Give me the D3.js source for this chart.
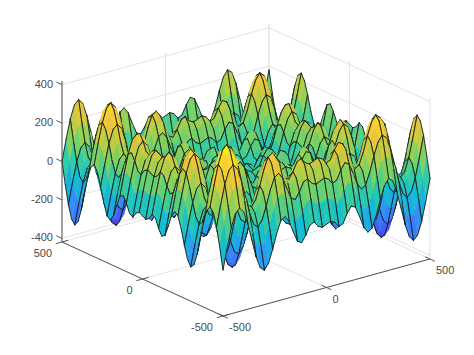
<!DOCTYPE html>
<html>
<head>
<meta charset="utf-8">
<script src="https://cdn.jsdelivr.net/npm/d3@7"></script>
<style>
html, body { margin: 0; padding: 0; background: #fff; }
svg { display: block; }
text { font-family: "Liberation Sans", Arial, sans-serif; font-size: 11px; fill: #4a4a4a; }
</style>
</head>
<body>
<script>
var xTicks = [-500, 0, 500];
var yTicks = [-500, 0, 500];
var zTicks = [-400, -200, 0, 200, 400];

// surface heights, one row per y (-500 to 500 in steps of 20), one column per x
var zGrid = [
[-180,-70,29,97,119,93,24,-68,-158,-221,-240,-209,-143,-64,-5,10,-22,-83,-137,-150,-117,-71,-60,-89,-100,-90,-80,-91,-120,-109,-63,-30,-43,-97,-158,-190,-175,-116,-37,29,60,41,-22,-112,-204,-273,-299,-277,-209,-110,0],
[-70,40,139,207,229,203,134,42,-48,-111,-130,-99,-33,46,105,120,88,27,-27,-40,-7,39,50,21,10,20,30,19,-10,1,47,80,67,13,-48,-80,-65,-6,73,139,170,151,88,-2,-94,-163,-189,-167,-99,0,110],
[29,139,238,306,328,302,233,141,51,-12,-31,0,66,145,204,219,187,126,72,59,92,138,149,120,109,119,129,118,89,100,146,179,166,112,51,19,34,93,172,238,269,250,187,97,5,-64,-90,-68,0,99,209],
[97,207,306,374,396,370,301,209,119,56,37,68,134,213,272,287,255,194,140,127,160,206,217,188,177,187,197,186,157,168,214,247,234,180,119,87,102,161,240,306,337,318,255,165,73,4,-22,0,68,167,277],
[119,229,328,396,418,392,323,231,141,78,59,90,156,235,294,309,277,216,162,149,182,228,239,210,199,209,219,208,179,190,236,269,256,202,141,109,124,183,262,328,359,340,277,187,95,26,0,22,90,189,299],
[93,203,302,370,392,366,297,205,115,52,33,64,130,209,268,283,251,190,136,123,156,202,213,184,173,183,193,182,153,164,210,243,230,176,115,83,98,157,236,302,333,314,251,161,69,0,-26,-4,64,163,273],
[24,134,233,301,323,297,228,136,46,-17,-36,-5,61,140,199,214,182,121,67,54,87,133,144,115,104,114,124,113,84,95,141,174,161,107,46,14,29,88,167,233,264,245,182,92,0,-69,-95,-73,-5,94,204],
[-68,42,141,209,231,205,136,44,-46,-109,-128,-97,-31,48,107,122,90,29,-25,-38,-5,41,52,23,12,22,32,21,-8,3,49,82,69,15,-46,-78,-63,-4,75,141,172,153,90,0,-92,-161,-187,-165,-97,2,112],
[-158,-48,51,119,141,115,46,-46,-136,-199,-218,-187,-121,-42,17,32,0,-61,-115,-128,-95,-49,-38,-67,-78,-68,-58,-69,-98,-87,-41,-8,-21,-75,-136,-168,-153,-94,-15,51,82,63,0,-90,-182,-251,-277,-255,-187,-88,22],
[-221,-111,-12,56,78,52,-17,-109,-199,-262,-281,-250,-184,-105,-46,-31,-63,-124,-178,-191,-158,-112,-101,-130,-141,-131,-121,-132,-161,-150,-104,-71,-84,-138,-199,-231,-216,-157,-78,-12,19,0,-63,-153,-245,-314,-340,-318,-250,-151,-41],
[-240,-130,-31,37,59,33,-36,-128,-218,-281,-300,-269,-203,-124,-65,-50,-82,-143,-197,-210,-177,-131,-120,-149,-160,-150,-140,-151,-180,-169,-123,-90,-103,-157,-218,-250,-235,-176,-97,-31,0,-19,-82,-172,-264,-333,-359,-337,-269,-170,-60],
[-209,-99,0,68,90,64,-5,-97,-187,-250,-269,-238,-172,-93,-34,-19,-51,-112,-166,-179,-146,-100,-89,-118,-129,-119,-109,-120,-149,-138,-92,-59,-72,-126,-187,-219,-204,-145,-66,0,31,12,-51,-141,-233,-302,-328,-306,-238,-139,-29],
[-143,-33,66,134,156,130,61,-31,-121,-184,-203,-172,-106,-27,32,47,15,-46,-100,-113,-80,-34,-23,-52,-63,-53,-43,-54,-83,-72,-26,7,-6,-60,-121,-153,-138,-79,0,66,97,78,15,-75,-167,-236,-262,-240,-172,-73,37],
[-64,46,145,213,235,209,140,48,-42,-105,-124,-93,-27,52,111,126,94,33,-21,-34,-1,45,56,27,16,26,36,25,-4,7,53,86,73,19,-42,-74,-59,0,79,145,176,157,94,4,-88,-157,-183,-161,-93,6,116],
[-5,105,204,272,294,268,199,107,17,-46,-65,-34,32,111,170,185,153,92,38,25,58,104,115,86,75,85,95,84,55,66,112,145,132,78,17,-15,0,59,138,204,235,216,153,63,-29,-98,-124,-102,-34,65,175],
[10,120,219,287,309,283,214,122,32,-31,-50,-19,47,126,185,200,168,107,53,40,73,119,130,101,90,100,110,99,70,81,127,160,147,93,32,0,15,74,153,219,250,231,168,78,-14,-83,-109,-87,-19,80,190],
[-22,88,187,255,277,251,182,90,0,-63,-82,-51,15,94,153,168,136,75,21,8,41,87,98,69,58,68,78,67,38,49,95,128,115,61,0,-32,-17,42,121,187,218,199,136,46,-46,-115,-141,-119,-51,48,158],
[-83,27,126,194,216,190,121,29,-61,-124,-143,-112,-46,33,92,107,75,14,-40,-53,-20,26,37,8,-3,7,17,6,-23,-12,34,67,54,0,-61,-93,-78,-19,60,126,157,138,75,-15,-107,-176,-202,-180,-112,-13,97],
[-137,-27,72,140,162,136,67,-25,-115,-178,-197,-166,-100,-21,38,53,21,-40,-94,-107,-74,-28,-17,-46,-57,-47,-37,-48,-77,-66,-20,13,0,-54,-115,-147,-132,-73,6,72,103,84,21,-69,-161,-230,-256,-234,-166,-67,43],
[-150,-40,59,127,149,123,54,-38,-128,-191,-210,-179,-113,-34,25,40,8,-53,-107,-120,-87,-41,-30,-59,-70,-60,-50,-61,-90,-79,-33,0,-13,-67,-128,-160,-145,-86,-7,59,90,71,8,-82,-174,-243,-269,-247,-179,-80,30],
[-117,-7,92,160,182,156,87,-5,-95,-158,-177,-146,-80,-1,58,73,41,-20,-74,-87,-54,-8,3,-26,-37,-27,-17,-28,-57,-46,0,33,20,-34,-95,-127,-112,-53,26,92,123,104,41,-49,-141,-210,-236,-214,-146,-47,63],
[-71,39,138,206,228,202,133,41,-49,-112,-131,-100,-34,45,104,119,87,26,-28,-41,-8,38,49,20,9,19,29,18,-11,0,46,79,66,12,-49,-81,-66,-7,72,138,169,150,87,-3,-95,-164,-190,-168,-100,-1,109],
[-60,50,149,217,239,213,144,52,-38,-101,-120,-89,-23,56,115,130,98,37,-17,-30,3,49,60,31,20,30,40,29,0,11,57,90,77,23,-38,-70,-55,4,83,149,180,161,98,8,-84,-153,-179,-157,-89,10,120],
[-89,21,120,188,210,184,115,23,-67,-130,-149,-118,-52,27,86,101,69,8,-46,-59,-26,20,31,2,-9,1,11,0,-29,-18,28,61,48,-6,-67,-99,-84,-25,54,120,151,132,69,-21,-113,-182,-208,-186,-118,-19,91],
[-100,10,109,177,199,173,104,12,-78,-141,-160,-129,-63,16,75,90,58,-3,-57,-70,-37,9,20,-9,-20,-10,0,-11,-40,-29,17,50,37,-17,-78,-110,-95,-36,43,109,140,121,58,-32,-124,-193,-219,-197,-129,-30,80],
[-90,20,119,187,209,183,114,22,-68,-131,-150,-119,-53,26,85,100,68,7,-47,-60,-27,19,30,1,-10,0,10,-1,-30,-19,27,60,47,-7,-68,-100,-85,-26,53,119,150,131,68,-22,-114,-183,-209,-187,-119,-20,90],
[-80,30,129,197,219,193,124,32,-58,-121,-140,-109,-43,36,95,110,78,17,-37,-50,-17,29,40,11,0,10,20,9,-20,-9,37,70,57,3,-58,-90,-75,-16,63,129,160,141,78,-12,-104,-173,-199,-177,-109,-10,100],
[-91,19,118,186,208,182,113,21,-69,-132,-151,-120,-54,25,84,99,67,6,-48,-61,-28,18,29,0,-11,-1,9,-2,-31,-20,26,59,46,-8,-69,-101,-86,-27,52,118,149,130,67,-23,-115,-184,-210,-188,-120,-21,89],
[-120,-10,89,157,179,153,84,-8,-98,-161,-180,-149,-83,-4,55,70,38,-23,-77,-90,-57,-11,0,-29,-40,-30,-20,-31,-60,-49,-3,30,17,-37,-98,-130,-115,-56,23,89,120,101,38,-52,-144,-213,-239,-217,-149,-50,60],
[-109,1,100,168,190,164,95,3,-87,-150,-169,-138,-72,7,66,81,49,-12,-66,-79,-46,0,11,-18,-29,-19,-9,-20,-49,-38,8,41,28,-26,-87,-119,-104,-45,34,100,131,112,49,-41,-133,-202,-228,-206,-138,-39,71],
[-63,47,146,214,236,210,141,49,-41,-104,-123,-92,-26,53,112,127,95,34,-20,-33,0,46,57,28,17,27,37,26,-3,8,54,87,74,20,-41,-73,-58,1,80,146,177,158,95,5,-87,-156,-182,-160,-92,7,117],
[-30,80,179,247,269,243,174,82,-8,-71,-90,-59,7,86,145,160,128,67,13,0,33,79,90,61,50,60,70,59,30,41,87,120,107,53,-8,-40,-25,34,113,179,210,191,128,38,-54,-123,-149,-127,-59,40,150],
[-43,67,166,234,256,230,161,69,-21,-84,-103,-72,-6,73,132,147,115,54,0,-13,20,66,77,48,37,47,57,46,17,28,74,107,94,40,-21,-53,-38,21,100,166,197,178,115,25,-67,-136,-162,-140,-72,27,137],
[-97,13,112,180,202,176,107,15,-75,-138,-157,-126,-60,19,78,93,61,0,-54,-67,-34,12,23,-6,-17,-7,3,-8,-37,-26,20,53,40,-14,-75,-107,-92,-33,46,112,143,124,61,-29,-121,-190,-216,-194,-126,-27,83],
[-158,-48,51,119,141,115,46,-46,-136,-199,-218,-187,-121,-42,17,32,0,-61,-115,-128,-95,-49,-38,-67,-78,-68,-58,-69,-98,-87,-41,-8,-21,-75,-136,-168,-153,-94,-15,51,82,63,0,-90,-182,-251,-277,-255,-187,-88,22],
[-190,-80,19,87,109,83,14,-78,-168,-231,-250,-219,-153,-74,-15,0,-32,-93,-147,-160,-127,-81,-70,-99,-110,-100,-90,-101,-130,-119,-73,-40,-53,-107,-168,-200,-185,-126,-47,19,50,31,-32,-122,-214,-283,-309,-287,-219,-120,-10],
[-175,-65,34,102,124,98,29,-63,-153,-216,-235,-204,-138,-59,0,15,-17,-78,-132,-145,-112,-66,-55,-84,-95,-85,-75,-86,-115,-104,-58,-25,-38,-92,-153,-185,-170,-111,-32,34,65,46,-17,-107,-199,-268,-294,-272,-204,-105,5],
[-116,-6,93,161,183,157,88,-4,-94,-157,-176,-145,-79,0,59,74,42,-19,-73,-86,-53,-7,4,-25,-36,-26,-16,-27,-56,-45,1,34,21,-33,-94,-126,-111,-52,27,93,124,105,42,-48,-140,-209,-235,-213,-145,-46,64],
[-37,73,172,240,262,236,167,75,-15,-78,-97,-66,0,79,138,153,121,60,6,-7,26,72,83,54,43,53,63,52,23,34,80,113,100,46,-15,-47,-32,27,106,172,203,184,121,31,-61,-130,-156,-134,-66,33,143],
[29,139,238,306,328,302,233,141,51,-12,-31,0,66,145,204,219,187,126,72,59,92,138,149,120,109,119,129,118,89,100,146,179,166,112,51,19,34,93,172,238,269,250,187,97,5,-64,-90,-68,0,99,209],
[60,170,269,337,359,333,264,172,82,19,0,31,97,176,235,250,218,157,103,90,123,169,180,151,140,150,160,149,120,131,177,210,197,143,82,50,65,124,203,269,300,281,218,128,36,-33,-59,-37,31,130,240],
[41,151,250,318,340,314,245,153,63,0,-19,12,78,157,216,231,199,138,84,71,104,150,161,132,121,131,141,130,101,112,158,191,178,124,63,31,46,105,184,250,281,262,199,109,17,-52,-78,-56,12,111,221],
[-22,88,187,255,277,251,182,90,0,-63,-82,-51,15,94,153,168,136,75,21,8,41,87,98,69,58,68,78,67,38,49,95,128,115,61,0,-32,-17,42,121,187,218,199,136,46,-46,-115,-141,-119,-51,48,158],
[-112,-2,97,165,187,161,92,0,-90,-153,-172,-141,-75,4,63,78,46,-15,-69,-82,-49,-3,8,-21,-32,-22,-12,-23,-52,-41,5,38,25,-29,-90,-122,-107,-48,31,97,128,109,46,-44,-136,-205,-231,-209,-141,-42,68],
[-204,-94,5,73,95,69,0,-92,-182,-245,-264,-233,-167,-88,-29,-14,-46,-107,-161,-174,-141,-95,-84,-113,-124,-114,-104,-115,-144,-133,-87,-54,-67,-121,-182,-214,-199,-140,-61,5,36,17,-46,-136,-228,-297,-323,-301,-233,-134,-24],
[-273,-163,-64,4,26,0,-69,-161,-251,-314,-333,-302,-236,-157,-98,-83,-115,-176,-230,-243,-210,-164,-153,-182,-193,-183,-173,-184,-213,-202,-156,-123,-136,-190,-251,-283,-268,-209,-130,-64,-33,-52,-115,-205,-297,-366,-392,-370,-302,-203,-93],
[-299,-189,-90,-22,0,-26,-95,-187,-277,-340,-359,-328,-262,-183,-124,-109,-141,-202,-256,-269,-236,-190,-179,-208,-219,-209,-199,-210,-239,-228,-182,-149,-162,-216,-277,-309,-294,-235,-156,-90,-59,-78,-141,-231,-323,-392,-418,-396,-328,-229,-119],
[-277,-167,-68,0,22,-4,-73,-165,-255,-318,-337,-306,-240,-161,-102,-87,-119,-180,-234,-247,-214,-168,-157,-186,-197,-187,-177,-188,-217,-206,-160,-127,-140,-194,-255,-287,-272,-213,-134,-68,-37,-56,-119,-209,-301,-370,-396,-374,-306,-207,-97],
[-209,-99,0,68,90,64,-5,-97,-187,-250,-269,-238,-172,-93,-34,-19,-51,-112,-166,-179,-146,-100,-89,-118,-129,-119,-109,-120,-149,-138,-92,-59,-72,-126,-187,-219,-204,-145,-66,0,31,12,-51,-141,-233,-302,-328,-306,-238,-139,-29],
[-110,0,99,167,189,163,94,2,-88,-151,-170,-139,-73,6,65,80,48,-13,-67,-80,-47,-1,10,-19,-30,-20,-10,-21,-50,-39,7,40,27,-27,-88,-120,-105,-46,33,99,130,111,48,-42,-134,-203,-229,-207,-139,-40,70],
[0,110,209,277,299,273,204,112,22,-41,-60,-29,37,116,175,190,158,97,43,30,63,109,120,91,80,90,100,89,60,71,117,150,137,83,22,-10,5,64,143,209,240,221,158,68,-24,-93,-119,-97,-29,70,180]
];

var parula = ["#3e26a8","#4a45f0","#3f74ff","#2a9cf0","#10bcd6","#2fcca6","#74d268","#b4cf45","#eec43a","#f9d52e","#f9fb15"];

var width = 474, height = 355;

var gridStep = 20;
var meshEvery = 2; // black lines on every second grid line
var zMin = -419, zMax = 419; // axis runs a little past the last ticks

// screen position of a point = front corner + one shift per axis
var xToSx = d3.scaleLinear().domain([-500, 500]).range([223, 430]);
var xToSy = d3.scaleLinear().domain([-500, 500]).range([316, 259]);
var yToSx = d3.scaleLinear().domain([-500, 500]).range([0, -161]);
var yToSy = d3.scaleLinear().domain([-500, 500]).range([0, -74]);
var zToSy = d3.scaleLinear().domain([zMin, zMax]).range([0, -161]);

function project(x, y, z) {
    return [xToSx(x) + yToSx(y), xToSy(x) + yToSy(y) + zToSy(z)];
}

var color = d3.scaleLinear()
    .domain(parula.map((c, i) => zMin + i * (zMax - zMin) / 10))
    .range(parula);

var svg = d3.select('body').append('svg')
    .attr('width', width)
    .attr('height', height);

var line = d3.line();

// grid lines on the floor and the two back walls
var gridSegs = [];
xTicks.forEach(x => {
    gridSegs.push([project(x, -500, zMin), project(x, 500, zMin)]);
    gridSegs.push([project(x, 500, zMin), project(x, 500, zMax)]);
});
yTicks.forEach(y => {
    gridSegs.push([project(-500, y, zMin), project(500, y, zMin)]);
    gridSegs.push([project(500, y, zMin), project(500, y, zMax)]);
});
zTicks.forEach(z => {
    gridSegs.push([project(-500, 500, z), project(500, 500, z)]);
    gridSegs.push([project(500, 500, z), project(500, -500, z)]);
});

svg.append('g').selectAll('path')
    .data(gridSegs)
    .join('path')
    .attr('d', line)
    .attr('fill', 'none')
    .attr('stroke', '#e3e3e3')
    .attr('stroke-width', 1);

// quads, painted from the back corner towards the front corner
var n = zGrid.length;
var quads = [];
for (var j = n - 2; j >= 0; j--) {
    for (var i = n - 2; i >= 0; i--) {
        quads.push({ i: i, j: j });
    }
}

function corner(i, j) {
    return project(-500 + i * gridStep, -500 + j * gridStep, zGrid[j][i]);
}

function meanZ(d) {
    return (zGrid[d.j][d.i] + zGrid[d.j][d.i + 1] + zGrid[d.j + 1][d.i] + zGrid[d.j + 1][d.i + 1]) / 4;
}

var cells = svg.append('g').selectAll('g')
    .data(quads)
    .join('g');

cells.append('path')
    .attr('d', d => line([corner(d.i, d.j), corner(d.i + 1, d.j), corner(d.i + 1, d.j + 1), corner(d.i, d.j + 1)]) + 'Z')
    .attr('fill', d => color(meanZ(d)))
    .attr('stroke', d => color(meanZ(d)))
    .attr('stroke-width', 0.4);

cells.append('path')
    .attr('d', d => {
        var s = '';
        if (d.j % meshEvery === 0) s += line([corner(d.i, d.j), corner(d.i + 1, d.j)]);
        if ((d.j + 1) % meshEvery === 0) s += line([corner(d.i, d.j + 1), corner(d.i + 1, d.j + 1)]);
        if (d.i % meshEvery === 0) s += line([corner(d.i, d.j), corner(d.i, d.j + 1)]);
        if ((d.i + 1) % meshEvery === 0) s += line([corner(d.i + 1, d.j), corner(d.i + 1, d.j + 1)]);
        return s;
    })
    .attr('fill', 'none')
    .attr('stroke', '#1a1a1a')
    .attr('stroke-width', 0.9)
    .attr('stroke-linecap', 'round');

// axes
var axisColor = '#555';
var axes = svg.append('g').attr('fill', 'none').attr('stroke', axisColor).attr('stroke-width', 1);
axes.append('path').attr('d', line([project(-500, 500, zMin), project(-500, 500, zMax)]));
axes.append('path').attr('d', line([project(-500, 500, zMin), project(-500, -500, zMin)]));
axes.append('path').attr('d', line([project(-500, -500, zMin), project(500, -500, zMin)]));

axes.selectAll('.ztick').data(zTicks).join('path').attr('class', 'ztick')
    .attr('d', z => line([project(-500, 535, z), project(-500, 500, z)]));
axes.selectAll('.ytick').data(yTicks).join('path').attr('class', 'ytick')
    .attr('d', y => line([project(-530, y, zMin), project(-470, y, zMin)]));
axes.selectAll('.xtick').data(xTicks).join('path').attr('class', 'xtick')
    .attr('d', x => line([project(x, -530, zMin), project(x, -470, zMin)]));

// tick labels
var labels = svg.append('g');
labels.selectAll('.zlabel').data(zTicks).join('text').attr('class', 'zlabel')
    .attr('x', z => project(-500, 500, z)[0] - 9)
    .attr('y', z => project(-500, 500, z)[1] + 3)
    .attr('text-anchor', 'end')
    .text(d => d);
labels.selectAll('.ylabel').data(yTicks).join('text').attr('class', 'ylabel')
    .attr('x', y => project(-500, y, zMin)[0] - 10)
    .attr('y', y => project(-500, y, zMin)[1] + 15)
    .attr('text-anchor', 'end')
    .text(d => d);
labels.selectAll('.xlabel').data(xTicks).join('text').attr('class', 'xlabel')
    .attr('x', x => project(x, -500, zMin)[0] + 6)
    .attr('y', x => project(x, -500, zMin)[1] + 15)
    .attr('text-anchor', 'start')
    .text(d => d);
</script>
</body>
</html>
